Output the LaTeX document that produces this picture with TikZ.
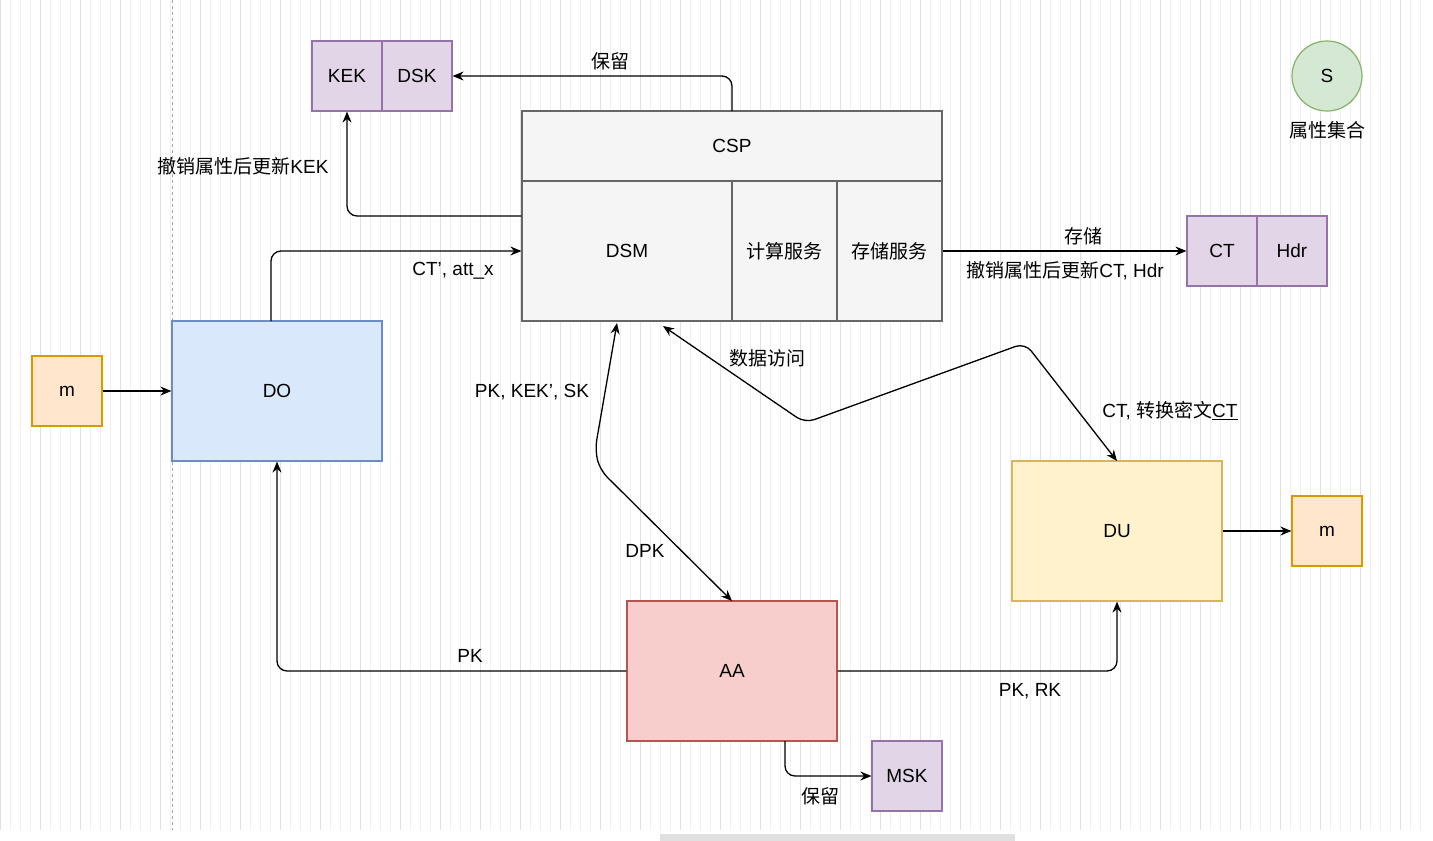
\documentclass[tikz,border=0pt]{standalone}
\usepackage{fontspec}
\setmainfont{Liberation Sans}
\newfontfamily\cjk{Noto Sans CJK SC}
\usetikzlibrary{arrows.meta}
\begin{document}
\begin{tikzpicture}[x=1pt,y=-1pt,font=\fontsize{19}{22}\selectfont,
 box/.style={draw,line width=1.2pt,minimum width=70pt,minimum height=70pt,inner sep=0pt},
 pur/.style={box,fill=purple!0,fill={rgb,255:red,225;green,213;blue,231},draw={rgb,255:red,150;green,115;blue,166}},
 gry/.style={draw={rgb,255:red,102;green,102;blue,102},fill={rgb,255:red,245;green,245;blue,245},line width=1.2pt,inner sep=0pt},
 org/.style={box,fill={rgb,255:red,255;green,230;blue,204},draw={rgb,255:red,215;green,155;blue,0}},
 big/.style={box,minimum width=210pt,minimum height=140pt},
 con/.style={line width=1.3pt,-{Stealth[length=11pt,width=9pt]},rounded corners=10pt},
 lab/.style={inner sep=1pt}]
\useasboundingbox (0,0) rectangle (1433,841);
\fill[white] (0,0) rectangle (1433,841);
\draw[black!6,line width=0.5pt] (0,0) grid[step=10] (1425,830);
\draw[black!12,line width=0.6pt] (0,0) grid[step=40] (1425,830);
\draw[black!35,dashed,line width=0.6pt] (172,0) -- (172,830);
\fill[black!12] (660,834) rectangle (1015,841);
% nodes
\node[pur] (kek) at (347,76) {KEK};
\node[pur] (dsk) at (417,76) {DSK};
\node[gry,minimum width=420pt,minimum height=70pt] (csp) at (732,146) {CSP};
\node[gry,minimum width=210pt,minimum height=140pt] (dsm) at (627,251) {DSM};
\node[gry,minimum width=105pt,minimum height=140pt] (js) at (784.5,251) {\cjk 计算服务};
\node[gry,minimum width=105pt,minimum height=140pt] (cc) at (889.5,251) {\cjk 存储服务};
\node[pur] (ct) at (1222,251) {CT};
\node[pur] (hdr) at (1292,251) {Hdr};
\node[circle,draw={rgb,255:red,130;green,179;blue,102},fill={rgb,255:red,213;green,232;blue,212},line width=1.2pt,minimum size=70pt] (s) at (1327,76) {S};
\node[lab] (sl) at (1327,130) {\cjk 属性集合};
\node[org] (m1) at (67,391) {m};
\node[big,fill={rgb,255:red,218;green,232;blue,252},draw={rgb,255:red,108;green,142;blue,191}] (do) at (277,391) {DO};
\node[big,fill={rgb,255:red,255;green,242;blue,204},draw={rgb,255:red,214;green,182;blue,86}] (du) at (1117,531) {DU};
\node[org] (m2) at (1327,531) {m};
\node[big,fill={rgb,255:red,248;green,206;blue,204},draw={rgb,255:red,184;green,84;blue,80}] (aa) at (732,671) {AA};
\node[pur] (msk) at (907,776) {MSK};
% coordinates
\coordinate (c1) at (732,111);
% edges
\draw[con] (c1) |- (dsk.east);
\draw[con] (dsm.west|-0,216) -| (kek.south);
\draw[con] (271,321) |- (dsm.west);
\draw[con] (cc.east) -- (ct.west);
\draw[con] (m1) -- (do);
\draw[con] (du) -- (m2);
\draw[con] (aa.west) -| (do.south);
\draw[con] (aa.east) -| (du.south);
\draw[con] (785,741) |- (msk.west);
\coordinate (a1) at (617,323); \coordinate (a2) at (732,601);
\draw[con,{Stealth[length=11pt,width=9pt]}-{Stealth[length=11pt,width=9pt]}] (a1) -- (595,450) -- (600,470) -- (a2);
\coordinate (b1) at (663,326); \coordinate (b2) at (1117,461);
\draw[con,{Stealth[length=11pt,width=9pt]}-{Stealth[length=11pt,width=9pt]}] (b1) -- (805,423) -- (1025,343) -- (b2);
% labels
\node[lab] at (610,61) {\cjk 保留};
\node[lab] at (243,166) {{\cjk 撤销属性后更新}KEK};
\node[lab] at (453,271) {CT', att\_x};
\node[lab] at (1083,236) {\cjk 存储};
\node[lab] at (1065,271) {{\cjk 撤销属性后更新}CT, Hdr};
\node[lab] at (532,392) {PK, KEK', SK};
\node[lab] at (645,551) {DPK};
\node[lab] at (767,358) {\cjk 数据访问};
\node[lab] at (1170,411) {CT, {\cjk 转换密文}\underline{CT}};
\node[lab] at (470,656) {PK};
\node[lab] at (1030,691) {PK, RK};
\node[lab] at (820,796) {\cjk 保留};
\end{tikzpicture}
\end{document}
